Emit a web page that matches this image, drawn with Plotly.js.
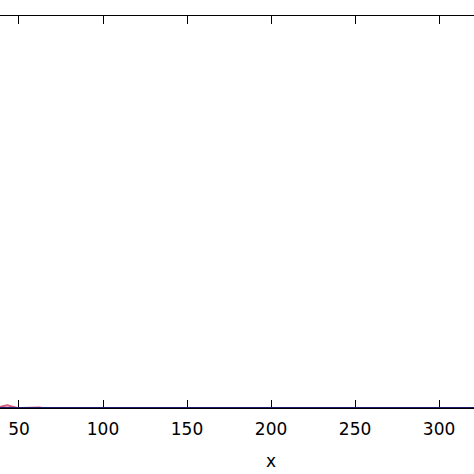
<!DOCTYPE html>
<html>
<head>
<meta charset="utf-8">
<script src="https://cdn.plot.ly/plotly-3.0.1.min.js"></script>
<style>
  html, body { margin: 0; padding: 0; background: #fff; }
  #plot { width: 474px; height: 474px; }
</style>
</head>
<body>
<div id="plot"></div>
<script>
// Baseline series (sits on the bottom axis)
const baseX = [30, 60, 100, 150, 200, 250, 300, 330];
const baseY = [0, 0, 0, 0, 0, 0, 0, 0];

// Small red peak near the left edge
const peakX = [36, 39, 41, 43, 45, 47, 49, 52, 56, 60, 62, 64, 68];
const peakY = [0.0, 0.002, 0.005, 0.007, 0.005, 0.002, 0.0, 0.0, 0.001, 0.001, 0.001, 0.0, 0.0];

const tickVals = [50, 100, 150, 200, 250, 300];

const data = [
	{
		x: peakX,
		y: peakY,
		mode: 'lines',
		line: { color: '#c8174a', width: 2 },
		opacity: 0.7,
		showlegend: false
	},
	{
		x: baseX,
		y: baseY,
		mode: 'lines',
		line: { color: '#1c1a66', width: 2 },
		showlegend: false
	}
];

const layout = {
	width: 474,
	height: 474,
	paper_bgcolor: '#ffffff',
	plot_bgcolor: '#ffffff',
	margin: { l: 0, r: 0, t: 16, b: 66 },
	font: { family: 'DejaVu Sans', size: 17, color: '#000' },
	xaxis: {
		range: [38.7, 320.8],
		tickvals: tickVals,
		ticktext: tickVals.map(String),
		ticks: 'inside',
		ticklen: 8,
		tickwidth: 1,
		tickcolor: '#000',
		ticklabelstandoff: 6,
		showline: true,
		linecolor: '#000',
		linewidth: 1,
		mirror: 'allticks',
		layer: 'below traces',
		showgrid: false,
		zeroline: false,
		tickfont: { family: 'DejaVu Sans', size: 17, color: '#000' }
	},
	yaxis: {
		range: [0, 1],
		visible: false,
		showgrid: false,
		zeroline: false
	},
	// axis label placed where the full (cropped) plot area is centred
	annotations: [{
		text: 'x',
		xref: 'paper',
		yref: 'paper',
		x: 0.572,
		y: -0.135,
		xanchor: 'center',
		yanchor: 'middle',
		showarrow: false,
		font: { family: 'DejaVu Sans', size: 17, color: '#000' }
	}]
};

Plotly.newPlot('plot', data, layout, { staticPlot: true, displayModeBar: false });
</script>
</body>
</html>
